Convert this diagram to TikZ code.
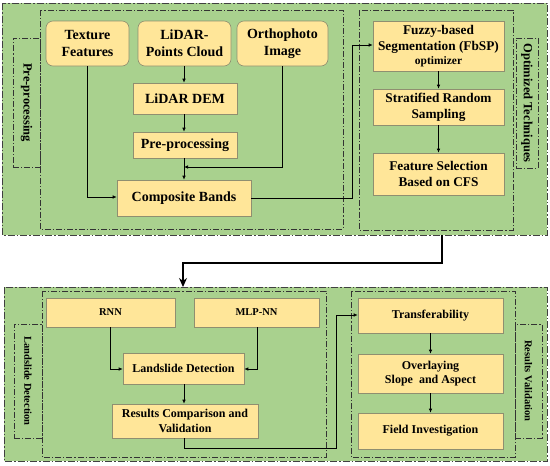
\documentclass[tikz,border=0pt]{standalone}
\usepackage{fontspec}
\setmainfont{Liberation Serif}
\usetikzlibrary{arrows.meta}
\definecolor{grn}{HTML}{A9D18E}
\definecolor{ylw}{HTML}{FFE699}
\definecolor{bord}{HTML}{8F8F70}
\tikzset{
  outerbox/.style={draw=black!75, fill=grn, line width=0.9pt, dash pattern=on 7pt off 2pt on 1.5pt off 2pt},
  innerbox/.style={draw=black!80, line width=0.7pt, dash pattern=on 6pt off 2pt on 1.2pt off 2pt},
  labbox/.style={draw=black!80, line width=0.7pt, dash pattern=on 6pt off 2pt on 1.2pt off 2pt},
  yb/.style={draw=bord, fill=ylw, line width=0.6pt, align=center, font=\bfseries\fontsize{14}{17}\selectfont, inner sep=0pt},
  ybr/.style={yb, rounded corners=7pt},
  fb/.style={yb, font=\bfseries\fontsize{13.3}{16}\selectfont},
  bb/.style={yb, font=\bfseries\fontsize{12}{14.5}\selectfont},
  sb/.style={yb, font=\bfseries\fontsize{10.5}{12.5}\selectfont},
  arr/.style={draw=black, line width=0.7pt, -{Latex[length=4pt,width=3.5pt]}},
  side/.style={font=\bfseries\fontsize{12.5}{13}\selectfont, rotate=-90},
  sideb/.style={font=\bfseries\fontsize{10.5}{11}\selectfont, rotate=-90}
}
\begin{document}
\begin{tikzpicture}[x=1pt,y=-1pt]
\useasboundingbox (0,0) rectangle (550,466);
% top
\draw[outerbox] (2,3) rectangle (547,235);
\draw[innerbox] (40,10) rectangle (343,229);
\draw[innerbox] (359,10) rectangle (513,230);
\node[labbox, minimum width=27pt, minimum height=129pt] (lpre) at (26.5,102.5) {};
\node[side] at (lpre) {Pre-processing};
\node[labbox, minimum width=22pt, minimum height=130pt] (lopt) at (527,103) {};
\node[side] at (lopt) {Optimized Techniques};

\node[ybr, minimum width=83pt, minimum height=45pt] (tex) at (87.5,43.5) {Texture\\Features};
\node[ybr, minimum width=93pt, minimum height=45pt] (lid) at (184.5,43.5) {LiDAR-\\Points Cloud};
\node[ybr, minimum width=91pt, minimum height=45pt] (orth) at (282.5,43.5) {Orthophoto\\Image};
\node[yb, minimum width=104pt, minimum height=31pt] (dem) at (185,98.5) {LiDAR DEM};
\node[yb, minimum width=104pt, minimum height=26pt] (pre) at (185,145) {Pre-processing};
\node[yb, minimum width=134pt, minimum height=36pt] (comp) at (184,198) {Composite Bands};

\node[fb, minimum width=131pt, minimum height=50pt] (fbsp) at (438.5,46) {Fuzzy-based\\Segmentation (FbSP)\\[-2pt]{\fontsize{11.5}{13}\selectfont optimizer}};
\node[fb, minimum width=131pt, minimum height=36pt] (strat) at (438.5,107) {Stratified Random\\Sampling};
\node[fb, minimum width=131pt, minimum height=42pt] (feat) at (438.5,174) {Feature Selection\\Based on CFS};

\coordinate (jn) at (184,167);
\draw[arr] (lid.south -| 184,0) -- (dem.north -| 184,0);
\draw[arr] (dem.south -| 184,0) -- (pre.north -| 184,0);
\draw[arr] (pre.south -| 184,0) -- (comp.north -| 184,0);
\draw[arr] (orth.south) -- (orth.south |- jn) -- (jn);
\draw[arr] (tex.south) -- (tex.south |- 0,197) -- (comp.west |- 0,197);
\draw[arr] (comp.east) -- (352,198) -- (352,45) -- (fbsp.west |- 0,45);
\draw[arr] (fbsp.south) -- (strat.north);
\draw[arr] (strat.south) -- (feat.north);

% bottom
\draw[outerbox] (4,287) rectangle (547,461);
\draw[innerbox] (42,291) rectangle (326,457);
\draw[innerbox] (351,291) rectangle (515,457);
\node[labbox, minimum width=28pt, minimum height=114pt] (lld) at (28,381) {};
\node[sideb] at (lld) {Landslide Detection};
\node[labbox, minimum width=27pt, minimum height=114pt] (lrv) at (528.5,381) {};
\node[sideb] at (lrv) {Results Validation};

\node[sb, minimum width=129pt, minimum height=29pt] (rnn) at (110.5,312.5) {RNN};
\node[sb, minimum width=125pt, minimum height=29pt] (mlp) at (256.5,312.5) {MLP-NN};
\node[bb, minimum width=121pt, minimum height=31pt] (ld) at (183.5,368.5) {Landslide Detection};
\node[bb, minimum width=146pt, minimum height=34pt] (rc) at (185,421) {Results Comparison and\\Validation};

\node[bb, minimum width=145pt, minimum height=35pt] (tr) at (430.5,315.5) {Transferability};
\node[bb, minimum width=145pt, minimum height=39pt] (ov) at (430.5,373.5) {Overlaying\\Slope~ and Aspect};
\node[bb, minimum width=145pt, minimum height=36pt] (fi) at (430.5,431) {Field Investigation};

\draw[arr] (rnn.south -| 110,0) -- (110,369) -- (ld.west |- 0,369);
\draw[arr] (mlp.south -| 257,0) -- (257,369) -- (ld.east |- 0,369);
\draw[arr] (ld.south -| 184,0) -- (rc.north -| 184,0);
\draw[arr] (rc.south -| 184,0) -- (184,448) -- (336,448) -- (336,315) -- (tr.west |- 0,315);
\draw[arr] (tr.south) -- (ov.north);
\draw[arr] (ov.south) -- (fi.north);

% connector between blocks
\coordinate (topout) at (442,235);
\coordinate (botin) at (183,287);
\draw[line width=1.2pt, -{Stealth[length=9pt,width=8pt]}] (topout) -- (442,263) -- (183,263) -- (botin);
\end{tikzpicture}
\end{document}
